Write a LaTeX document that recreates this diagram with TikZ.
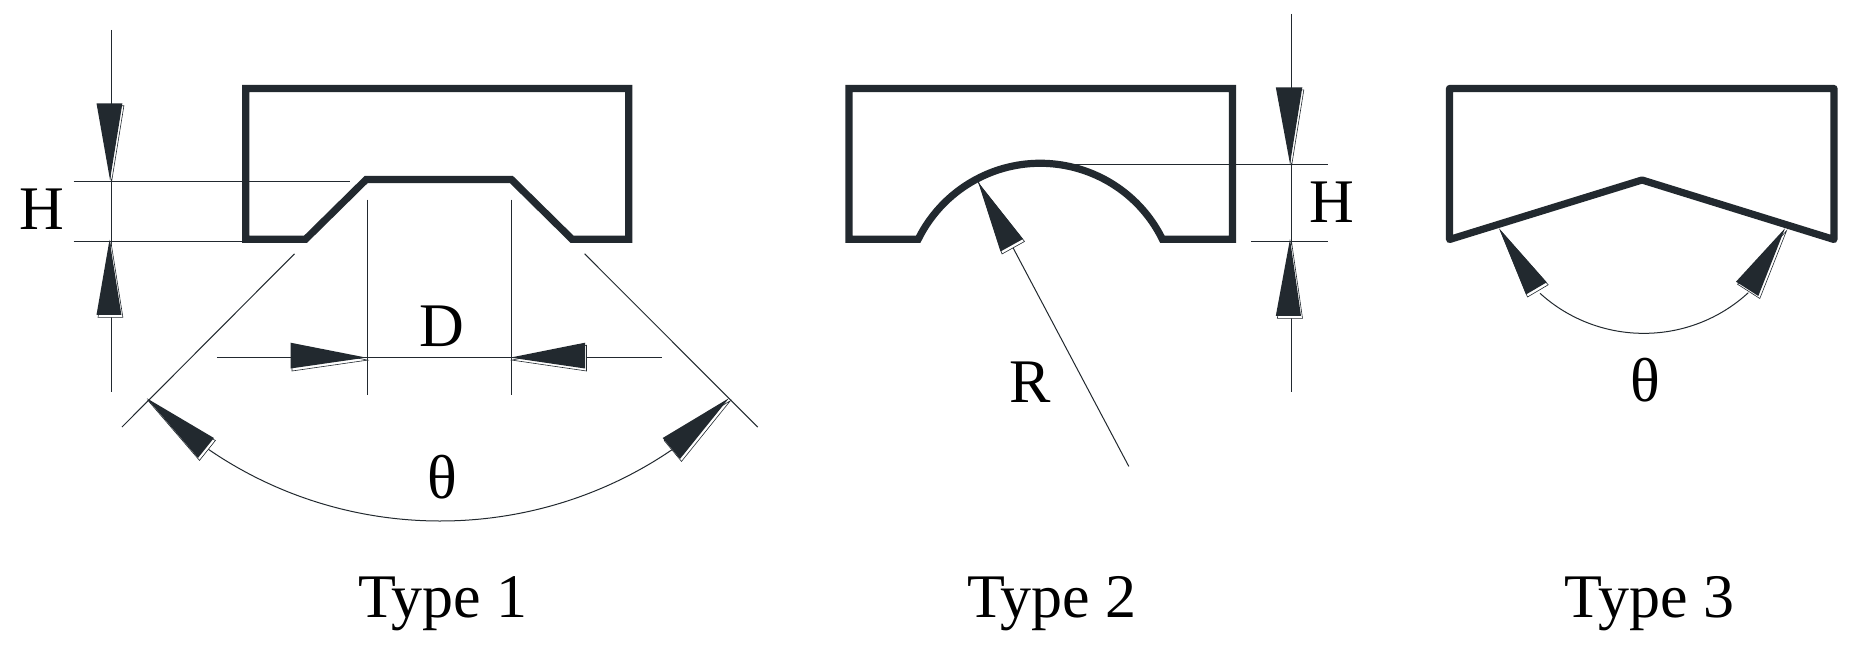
\documentclass[tikz,border=0pt]{standalone}
\usepackage{fontspec}
\setmainfont{Liberation Serif}
\definecolor{ink}{HTML}{22292F}
\tikzset{
  x=1pt,y=-1pt,
  wall/.style={draw=ink,line width=7.2pt,line join=miter,fill=none},
  ghost/.style={draw=ink,line width=0.8pt,shift={(4.8,4.8)}},
  dim/.style={draw=ink,line width=1pt},
  lab/.style={font=\fontsize{62}{70}\selectfont,text=black,inner sep=0pt,anchor=base}
}
% tip, base corner a, base corner b
\newcommand{\dimhead}[3]{%
  \fill[white,draw=ink,line width=0.6pt,shift={(1.5,2.5)}] #1 -- #2 -- #3 -- cycle;
  \fill[ink] #1 -- #2 -- #3 -- cycle;}
\begin{document}
\begin{tikzpicture}
\useasboundingbox[fill=white] (0,0) rectangle (1863,660);
% ---------- Type 1
\coordinate (a1) at (245.8,88.5);
\coordinate (a2) at (628.8,88.5);
\coordinate (a3) at (628.8,239.3);
\coordinate (a4) at (572.1,239.3);
\coordinate (a5) at (511.4,179.5);
\coordinate (a6) at (366.2,179.5);
\coordinate (a7) at (305.5,239.3);
\coordinate (a8) at (245.8,239.3);
\draw[ghost] (a1) -- (a2) -- (a3) -- (a4) -- (a5) -- (a6) -- (a7) -- (a8) -- cycle;
\draw[wall] (a1) -- (a2) -- (a3) -- (a4) -- (a5) -- (a6) -- (a7) -- (a8) -- cycle;
% H
\draw[dim] (111.5,29.8) -- (111.5,392.4);
\draw[dim] (73.6,181.3) -- (350,181.3);
\draw[dim] (73.6,241.4) -- (245.8,241.4);
\dimhead{(110,179.8)}{(96.5,103.3)}{(122.4,103.3)}
\dimhead{(109.5,239.9)}{(96.5,314.9)}{(121.4,314.9)}
% D
\draw[dim] (367.6,199.7) -- (367.6,395.3);
\draw[dim] (511.4,199.7) -- (511.4,395.3);
\draw[dim] (216.9,357.6) -- (661.7,357.6);
\dimhead{(366.2,357.6)}{(290.5,342.7)}{(290.5,368.5)}
\dimhead{(510.4,357.6)}{(585,342.7)}{(585,368.5)}
% theta
\draw[dim] (294.5,253.8) -- (121.9,427.1);
\draw[dim] (584.6,253.8) -- (757.7,427.1);
\coordinate (t1s) at (206.5,448);
\coordinate (t1e) at (671.6,450);
\draw[dim] (t1s) .. controls (346,545) and (532,545) .. (t1e);
\dimhead{(146.8,398.3)}{(213.9,438)}{(198,457.9)}
\dimhead{(728.8,398.3)}{(662.7,438)}{(680,458.9)}
\node[lab] (H1) at (42,230) {H};
\node[lab] (D1) at (442,346.5) {D};
\node[lab] (Th1) at (442,498) {θ};
\node[lab] (T1) at (443,617) {Type 1};
% ---------- Type 2
\coordinate (b1) at (849,88.5);
\coordinate (b2) at (1232.4,88.5);
\coordinate (b3) at (1232.4,239.3);
\coordinate (b4) at (1162.4,239.3);
\coordinate (b6) at (849,239.3);
\draw[ghost] (b1) -- (b2) -- (b3) -- (b4) arc[start angle=333.8,end angle=206.2,radius=136.1] -- (b6) -- cycle;
\draw[wall] (b1) -- (b2) -- (b3) -- (b4) arc[start angle=333.8,end angle=206.2,radius=136.1] -- (b6) -- cycle;
\draw[dim] (1291.3,13.9) -- (1291.3,392.4);
\draw[dim] (1073.4,164.9) -- (1328,164.9);
\draw[dim] (1251.4,241.4) -- (1328,241.4);
\dimhead{(1290,163.9)}{(1275.8,87.4)}{(1302.3,87.4)}
\dimhead{(1290,239.1)}{(1275.8,315.9)}{(1301,315.9)}
\draw[dim] (978.2,182) -- (1128.8,466.4);
\dimhead{(978.3,182.5)}{(1023,239)}{(1000.5,251.5)}
\node[lab] (R2) at (1030,402) {R};
\node[lab] (H2) at (1332,222.5) {H};
\node[lab] (T2) at (1052,617) {Type 2};
% ---------- Type 3
\coordinate (c1) at (1449.5,88.5);
\coordinate (c2) at (1834,88.5);
\coordinate (c3) at (1834,239.5);
\coordinate (c4) at (1642,180);
\coordinate (c5) at (1449.5,239.5);
\draw[ghost,line join=round] (c1) -- (c2) -- (c3) -- (c4) -- (c5) -- cycle;
\draw[wall,line join=round] (c1) -- (c2) -- (c3) -- (c4) -- (c5) -- cycle;
\coordinate (t3s) at (1540,293.3);
\coordinate (t3e) at (1748.3,292.7);
\draw[dim] (t3s) .. controls (1598.8,346.8) and (1689.5,346.8) .. (t3e);
\dimhead{(1499,228.3)}{(1546.7,282.3)}{(1526,294.5)}
\dimhead{(1785,228.3)}{(1736,281.7)}{(1758.3,296)}
\node[lab] (Th3) at (1645,401) {θ};
\node[lab] (T3) at (1649.5,617) {Type 3};
\end{tikzpicture}
\end{document}
